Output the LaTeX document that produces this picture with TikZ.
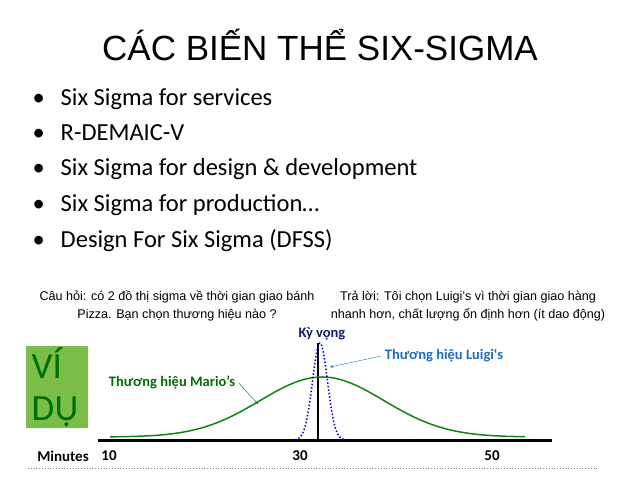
\documentclass[tikz,border=0pt]{standalone}
\usepackage{fontspec}
\setmainfont{Liberation Sans}
\newfontfamily\calfont{Carlito}
\begin{document}
\begin{tikzpicture}[x=1pt,y=-1pt,
  bul/.style={anchor=west,font=\calfont\fontsize{24.5}{26}\selectfont},
  small/.style={font=\fontsize{12.6}{18}\selectfont,align=center},
  lbl/.style={font=\calfont\bfseries\fontsize{14.5}{16}\selectfont},
  tick/.style={font=\calfont\bfseries\fontsize{15}{17}\selectfont}]
\useasboundingbox (0,0) rectangle (638,478);
\definecolor{dg}{RGB}{0,110,0}
\definecolor{cg}{RGB}{20,130,20}
\definecolor{lb}{RGB}{30,110,190}
\definecolor{boxg}{RGB}{122,190,72}
\definecolor{navy}{RGB}{20,30,110}
\node (title) at (320,45) {\fontsize{35}{40}\selectfont CÁC BIẾN THỂ SIX-SIGMA};
\foreach \t/\y [count=\i] in {Six Sigma for services/99,R-DEMAIC-V/133,Six Sigma for design \& development/169,Six Sigma for production…/205,Design For Six Sigma (DFSS)/241}{
  \node[bul] (b\i) at (29,\y) {\textbullet\hspace{16pt}\t};}
\node[small] (q) at (177,306) {Câu hỏi: có 2 đồ thị sigma về thời gian giao bánh\\Pizza. Bạn chọn thương hiệu nào ?};
\node[small] (a) at (468,306) {Trả lời: Tôi chọn Luigi’s vì thời gian giao hàng\\nhanh hơn, chất lượng ổn định hơn (ít dao động)};
\fill[boxg] (26,346) rectangle (88,428);
\node[font=\calfont\fontsize{37}{40}\selectfont,text=dg,align=left] (vd) at (55,387) {VÍ\\[2pt]DỤ};
\draw[line width=3pt] (98,441) -- (552,441);
\draw[line width=1.5pt] (318,343) -- (318,441);
\draw[cg,line width=1.5pt] plot[domain=110:525,samples=120] (\x,{437-60*exp(-((\x-322)/62)^2/2)});
\draw[blue!80!black,line width=1.5pt,dotted] plot[domain=295:347,samples=80] (\x,{440-97*exp(-((\x-320)/7.5)^2/2)});
\node[lbl,text=navy] (ky) at (322,334) {Kỳ vọng};
\node[lbl,text=lb] (lu) at (444,356) {Thương hiệu Luigi's};
\coordinate (lut) at (330,367);
\draw[lb,->,>=stealth] (lu.west) -- (lut);
\node[lbl,text=dg] (ma) at (172,383) {Thương hiệu Mario’s};
\coordinate (mat) at (258,404);
\draw[dg,->,>=stealth] (ma.east) -- (mat);
\node[tick] (mn) at (63,456) {Minutes};
\node[tick] (t10) at (109,456) {10};
\node[tick] (t30) at (300,456) {30};
\node[tick] (t50) at (492,456) {50};
\draw[gray,dotted,line width=0.8pt] (28,468) -- (597,468);
\end{tikzpicture}
\end{document}
